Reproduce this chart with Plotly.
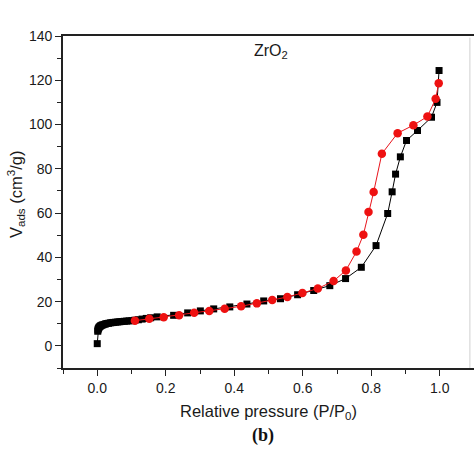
import plotly.graph_objects as go

# Adsorption branch (black squares)
ads_p = [0.0, 0.0015, 0.002, 0.003, 0.004, 0.006, 0.008, 0.010, 0.013, 0.016,
         0.020, 0.024, 0.028, 0.033, 0.038, 0.043, 0.048, 0.054, 0.060, 0.066,
         0.072, 0.079, 0.086, 0.093, 0.101, 0.110, 0.120, 0.131, 0.143, 0.156,
         0.175, 0.223, 0.264, 0.301, 0.340, 0.387, 0.437, 0.486, 0.535, 0.585,
         0.632, 0.679, 0.725, 0.771, 0.814, 0.848, 0.861, 0.871, 0.885, 0.903,
         0.935, 0.976, 0.992, 0.998]
ads_v = [1.0, 6.6, 7.2, 7.7, 8.1, 8.5, 8.8, 9.1, 9.3, 9.5,
         9.7, 9.9, 10.1, 10.2, 10.4, 10.5, 10.6, 10.7, 10.8, 10.9,
         11.0, 11.1, 11.2, 11.3, 11.4, 11.6, 11.8, 12.1, 12.4, 12.7,
         13.1, 13.8, 14.9, 15.8, 16.7, 17.6, 18.9, 20.3, 21.3, 23.1,
         25.0, 27.2, 30.4, 35.5, 45.3, 59.8, 69.6, 77.6, 85.4, 92.8,
         97.3, 103.3, 110.0, 124.4]

# Desorption branch (red circles)
des_p = [0.997, 0.988, 0.964, 0.923, 0.877, 0.831, 0.807, 0.792, 0.777, 0.757,
         0.726, 0.690, 0.644, 0.599, 0.555, 0.511, 0.466, 0.420, 0.372, 0.327,
         0.283, 0.239, 0.194, 0.152, 0.110]
des_v = [118.7, 111.6, 103.6, 99.7, 96.1, 86.8, 69.5, 60.5, 50.2, 42.6,
         34.1, 29.3, 25.9, 23.9, 22.1, 20.7, 19.2, 17.9, 16.8, 15.8,
         15.0, 13.8, 12.9, 12.2, 11.4]

fig = go.Figure()
fig.add_trace(go.Scatter(x=ads_p, y=ads_v, mode="lines+markers",
                         line=dict(color="black", width=1),
                         marker=dict(symbol="square", size=7, color="black"),
                         showlegend=False))
fig.add_trace(go.Scatter(x=des_p, y=des_v, mode="lines+markers",
                         line=dict(color="#e8141c", width=1),
                         marker=dict(symbol="circle", size=8.5, color="#ee1111"),
                         showlegend=False))

font_main = "Liberation Sans, Arial, sans-serif"

fig.update_layout(
    width=474, height=474,
    margin=dict(l=63, r=0, t=36, b=106),
    paper_bgcolor="white", plot_bgcolor="white",
    font=dict(family=font_main, color="#1a1a1a", size=14),
    xaxis=dict(range=[-0.1, 1.1], tick0=0, dtick=0.2, tickformat=".1f",
               showgrid=False, zeroline=False, showline=True, linecolor="#222",
               linewidth=1.6, mirror=True, ticks="outside", ticklen=6,
               tickwidth=1.3, tickcolor="#222",
               minor=dict(ticks="outside", ticklen=4, dtick=0.1, tick0=0,
                          tickcolor="#222", tickwidth=1.2, showgrid=False),
               tickfont=dict(size=14)),
    yaxis=dict(range=[-10, 140], tick0=0, dtick=20,
               showgrid=False, zeroline=False, showline=True, linecolor="#222",
               linewidth=1.6, mirror=False, ticks="outside", ticklen=6,
               tickwidth=1.3, tickcolor="#222",
               minor=dict(ticks="outside", ticklen=4, dtick=10, tick0=0,
                          tickcolor="#222", tickwidth=1.2, showgrid=False),
               tickfont=dict(size=14)),
)

fig.add_shape(type="line", xref="x", yref="paper", x0=1.088, x1=1.088,
              y0=0, y1=0.995, line=dict(color="#d0d0d0", width=1))

fig.add_annotation(text="ZrO<sub>2</sub>", xref="paper", yref="paper",
                   x=0.46, y=0.952, xanchor="left", yanchor="middle",
                   showarrow=False, font=dict(size=16, family=font_main))
fig.add_annotation(text="Relative pressure (P/P<sub>0</sub>)", xref="paper",
                   yref="paper", x=0.5, y=-0.1325, xanchor="center",
                   yanchor="middle", showarrow=False,
                   font=dict(size=16.5, family=font_main))
fig.add_annotation(text="V<sub>ads</sub> (cm<sup>3</sup>/g)", xref="paper",
                   yref="paper", x=-0.1144, y=0.524, xanchor="center",
                   yanchor="middle", textangle=-90, showarrow=False,
                   font=dict(size=16.5, family=font_main))
fig.add_annotation(text="<b>(b)</b>", xref="paper", yref="paper",
                   x=0.487, y=-0.202, xanchor="center", yanchor="middle",
                   showarrow=False,
                   font=dict(size=18, family="Liberation Serif, Times New Roman, serif",
                             color="#111"))

fig.write_html("out.html")
